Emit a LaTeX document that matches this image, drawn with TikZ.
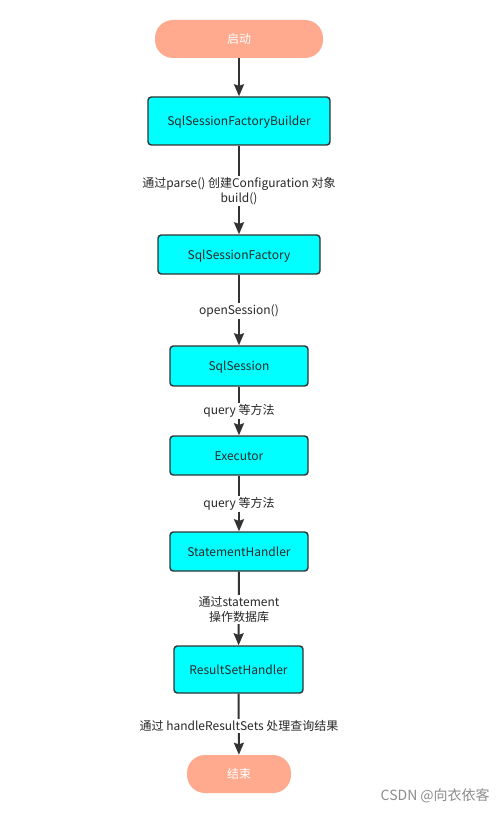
\documentclass[tikz,border=0pt]{standalone}
\usepackage{fontspec}
\setmainfont{Noto Sans CJK SC}
\usetikzlibrary{arrows.meta}
\definecolor{salmon}{RGB}{255,170,143}
\definecolor{boxcyan}{RGB}{0,255,255}
\definecolor{linegray}{RGB}{51,51,51}
\definecolor{txt}{RGB}{40,40,40}
\tikzset{
  base/.style={inner sep=0pt, font=\fontsize{9}{11}\selectfont},
  term/.style={base, fill=salmon, rounded corners=13.5pt, text=white, text height=8pt, text depth=1pt},
  proc/.style={base, fill=boxcyan, draw=linegray, line width=1.1pt, rounded corners=2.5pt, text=txt, text height=8pt, text depth=1pt},
  flow/.style={draw=linegray, line width=1.5pt, -{Stealth[length=9pt,width=7.5pt,inset=1.2pt]}},
  lab/.style={base, fill=white, text=txt, align=center, inner sep=1pt},
}
\begin{document}
\begin{tikzpicture}[x=0.75pt,y=-0.75pt]
\useasboundingbox (0,0) rectangle (502,813);
\node[term, minimum width=168*0.75pt, minimum height=38*0.75pt] (start) at (239,39) {启动};
\node[proc, minimum width=182*0.75pt, minimum height=48*0.75pt] (builder) at (239,121) {SqlSessionFactoryBuilder};
\node[proc, minimum width=162*0.75pt, minimum height=39*0.75pt] (factory) at (239,254.5) {SqlSessionFactory};
\node[proc, minimum width=138*0.75pt, minimum height=40*0.75pt] (session) at (239,366) {SqlSession};
\node[proc, minimum width=138*0.75pt, minimum height=39*0.75pt] (executor) at (239,455.5) {Executor};
\node[proc, minimum width=138*0.75pt, minimum height=39*0.75pt] (statement) at (239,551.5) {StatementHandler};
\node[proc, minimum width=129*0.75pt, minimum height=47*0.75pt] (result) at (238.5,669.5) {ResultSetHandler};
\node[term, minimum width=104*0.75pt, minimum height=38*0.75pt] (end) at (239,774) {结束};

\draw[flow] (start) -- (builder);
\draw[flow] (builder) -- (factory);
\draw[flow] (factory) -- (session);
\draw[flow] (session) -- (executor);
\draw[flow] (executor) -- (statement);
\draw[flow] (statement) -- (result);
\draw[flow] (result) -- (end);

\node[lab] (l1) at (239,191) {通过parse() 创建Configuration 对象\\build()};
\node[lab] (l2) at (239,311) {openSession()};
\node[lab] (l3) at (239,411) {query 等方法};
\node[lab] (l4) at (239,504) {query 等方法};
\node[lab] (l5) at (239,609.5) {通过statement\\操作数据库};
\node[lab] (l6) at (239,726) {通过 handleResultSets 处理查询结果};

\node[base, anchor=east, text=black!45, font=\fontsize{10.5}{12}\selectfont] (wm) at (490,796) {CSDN @向衣依客};
\end{tikzpicture}
\end{document}
